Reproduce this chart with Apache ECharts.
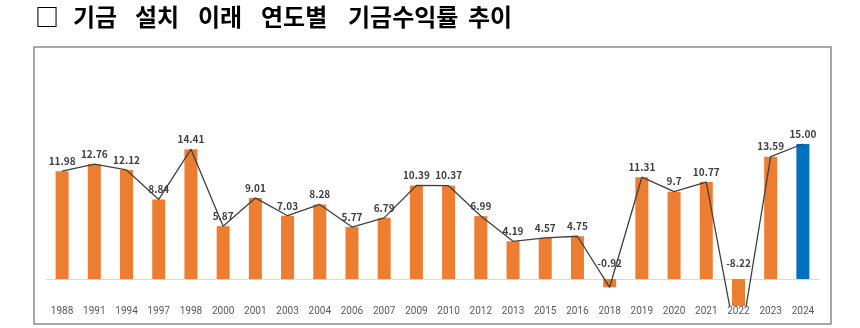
<!DOCTYPE html>
<html>
<head>
<meta charset="utf-8">
<script src="https://cdn.jsdelivr.net/npm/echarts@6/dist/echarts.min.js"></script>
<style>
html,body{margin:0;padding:0;background:#fff;}
#chart{width:860px;height:328px;}
</style>
</head>
<body>
<div id="chart"></div>
<script>
const titleWords = ['□', '기금', '설치', '이래', '연도별', '기금수익률', '추이'];
const years = ['1988','1991','1994','1997','1998','2000','2001','2003','2004','2006','2007','2009','2010','2012','2013','2015','2016','2018','2019','2020','2021','2022','2023','2024'];
const returns = [11.98,12.76,12.12,8.84,14.41,5.87,9.01,7.03,8.28,5.77,6.79,10.39,10.37,6.99,4.19,4.57,4.75,-0.92,11.31,9.7,10.77,-8.22,13.59,15.00];
const labels = ['11.98','12.76','12.12','8.84','14.41','5.87','9.01','7.03','8.28','5.77','6.79','10.39','10.37','6.99','4.19','4.57','4.75','-0.92','11.31','9.7','10.77','-8.22','13.59','15.00'];
const highlightYear = '2024';

// layout (not data): left x of each title word
const titleX = [35, 73, 135, 198, 261, 348, 468];

const chart = echarts.init(document.getElementById('chart'), null, {renderer: 'canvas'});
const barData = returns.map((v, i) => ({
  value: v,
  itemStyle: {color: years[i] === highlightYear ? '#0070C0' : '#ED7D31'},
  label: {distance: v < 0 ? 11 : 5}
}));
const titleGraphics = titleWords.map((w, i) => ({
  type: 'text', left: titleX[i], top: 5,
  style: {text: w, font: 'bold 24px "Noto Sans CJK KR"', fill: '#000'},
  silent: true
}));
chart.setOption({
  animation: false,
  graphic: titleGraphics.concat([{
    type: 'rect', shape: {x: 34, y: 47, width: 797, height: 277},
    style: {fill: 'none', stroke: '#8c8c8c', lineWidth: 1.5}, silent: true, z: -1
  }]),
  grid: {left: 46, right: 41, top: 99, bottom: 22, outerBoundsMode: 'none', containLabel: false},
  xAxis: {
    type: 'category', data: years,
    axisLine: {onZero: true, lineStyle: {color: '#d9d9d9', width: 1}},
    axisTick: {show: false},
    axisLabel: {margin: 0, fontSize: 10, color: '#595959', fontFamily: 'Liberation Sans Narrow, Roboto, sans-serif'}
  },
  yAxis: {type: 'value', min: -3, max: 20, show: false, splitLine: {show: false}},
  series: [{
    type: 'bar', data: barData, barWidth: 13,
    label: {
      show: true, position: 'top', distance: 5,
      formatter: p => labels[p.dataIndex],
      fontSize: 10, fontWeight: 'bold', color: '#404040', fontFamily: 'Noto Sans CJK KR, sans-serif'
    }
  }, {
    type: 'line', data: returns, symbol: 'none',
    lineStyle: {color: '#404040', width: 1.3}, z: 3
  }]
});
</script>
</body>
</html>
